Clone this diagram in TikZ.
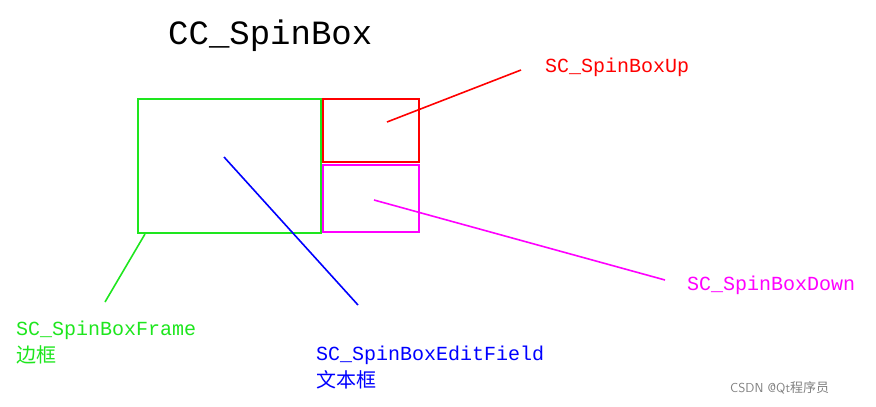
\documentclass[tikz,border=0pt]{standalone}
\usepackage{fontspec}
\setmonofont{Liberation Mono}
\newfontfamily\cjk{Noto Sans CJK SC}
\definecolor{mg}{RGB}{255,0,255}
\definecolor{gr}{RGB}{30,230,30}
\definecolor{rd}{RGB}{255,0,0}
\definecolor{bl}{RGB}{0,0,255}
\begin{document}
\begin{tikzpicture}[x=1pt,y=-1pt,
  lbl/.style={anchor=west,inner sep=0pt,font=\ttfamily\fontsize{20}{22}\selectfont},
  box/.style={draw,line width=1.8pt},
  ln/.style={line width=1.6pt}]
\useasboundingbox (0,0) rectangle (876,407);
\node[lbl,font=\ttfamily\fontsize{34}{36}\selectfont] (title) at (168,36) {CC\_SpinBox};
\node[box,gr,minimum width=183pt,minimum height=134pt,anchor=north west] (frame) at (137,98) {};
\node[box,rd,minimum width=96pt,minimum height=63pt,anchor=north west] (up) at (322,98) {};
\node[box,mg,minimum width=96pt,minimum height=67pt,anchor=north west] (down) at (322,164) {};
\coordinate (upin) at (387,122); \coordinate (upout) at (521,70);
\coordinate (dnin) at (374,200); \coordinate (dnout) at (665,280);
\coordinate (edin) at (224,157); \coordinate (edout) at (358,305);
\coordinate (frin) at (145,234); \coordinate (frout) at (105,302);
\draw[ln,rd] (upin) -- (upout);
\draw[ln,mg] (dnin) -- (dnout);
\draw[ln,bl] (edin) -- (edout);
\draw[ln,gr] (frin) -- (frout);
\node[lbl,rd] (lup) at (545,67) {SC\_SpinBoxUp};
\node[lbl,mg] (ldn) at (687,285) {SC\_SpinBoxDown};
\node[lbl,bl] (led) at (316,355) {SC\_SpinBoxEditField};
\node[lbl,bl,font=\cjk\fontsize{20}{22}\selectfont] (led2) at (316,380) {文本框};
\node[lbl,gr] (lfr) at (16,330) {SC\_SpinBoxFrame};
\node[lbl,gr,font=\cjk\fontsize{20}{22}\selectfont] (lfr2) at (16,355) {边框};
\node[lbl,gray,font=\sffamily\fontsize{13}{15}\selectfont] (wm) at (730,388) {CSDN @Qt{\cjk 程序员}};
\end{tikzpicture}
\end{document}
